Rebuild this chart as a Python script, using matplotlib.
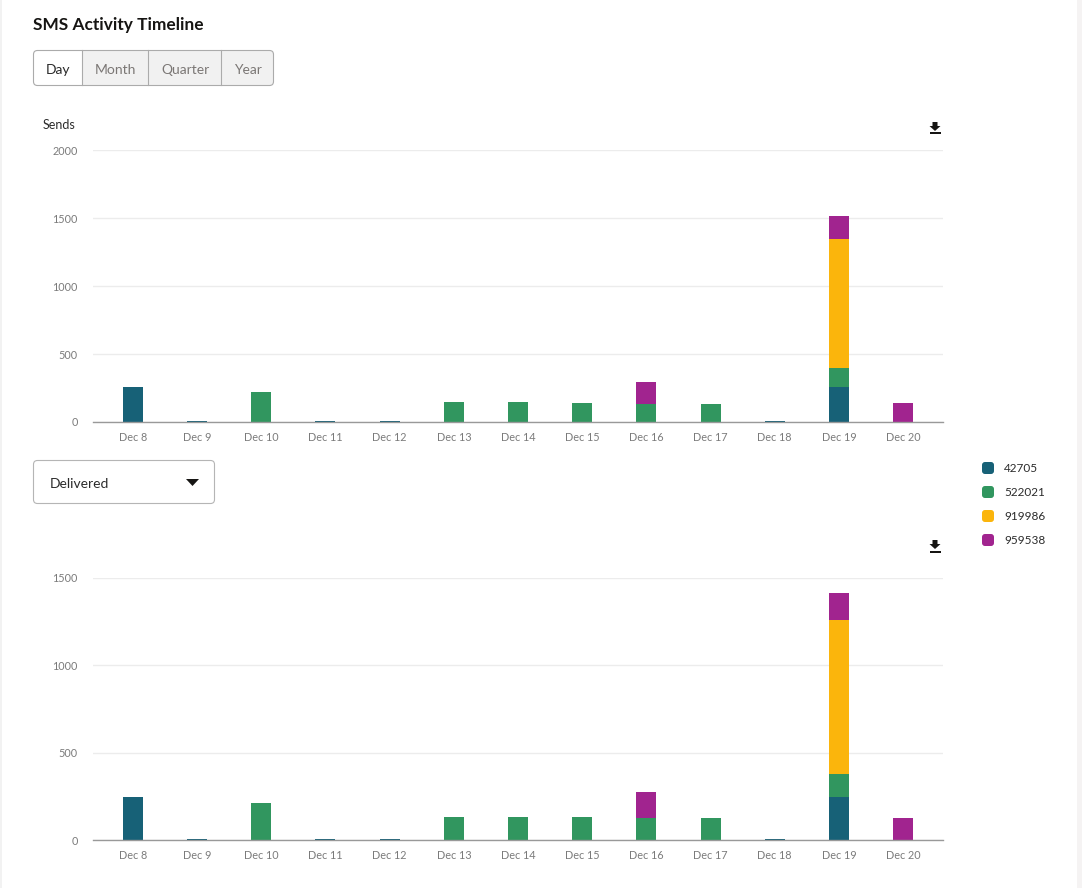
import matplotlib
matplotlib.use('Agg')
import matplotlib.pyplot as plt
import numpy as np
from matplotlib.patches import FancyBboxPatch, Rectangle, Polygon

plt.rcParams['font.family'] = ['Lato', 'DejaVu Sans']

W, H = 1082, 888

# Data
days = ['Dec 8', 'Dec 9', 'Dec 10', 'Dec 11', 'Dec 12', 'Dec 13', 'Dec 14',
        'Dec 15', 'Dec 16', 'Dec 17', 'Dec 18', 'Dec 19', 'Dec 20']
series_names = ['42705', '522021', '919986', '959538']
colors = ['#176177', '#31965f', '#fbb50c', '#a1248f']

sends_42705 = [257, 10, 0, 10, 10, 0, 0, 0, 0, 0, 10, 257, 0]
sends_522021 = [0, 0, 220, 0, 0, 147, 147, 140, 132, 132, 0, 140, 0]
sends_919986 = [0, 0, 0, 0, 0, 0, 0, 0, 0, 0, 0, 948, 0]
sends_959538 = [0, 0, 0, 0, 0, 0, 0, 0, 162, 0, 0, 170, 140]

deliv_42705 = [245, 8, 0, 8, 8, 0, 0, 0, 0, 0, 8, 245, 0]
deliv_522021 = [0, 0, 211, 0, 0, 131, 131, 131, 125, 125, 0, 131, 0]
deliv_919986 = [0, 0, 0, 0, 0, 0, 0, 0, 0, 0, 0, 884, 0]
deliv_959538 = [0, 0, 0, 0, 0, 0, 0, 0, 149, 0, 0, 149, 125]

sends_ticks = [0, 500, 1000, 1500, 2000]
deliv_ticks = [0, 500, 1000, 1500]

fig = plt.figure(figsize=(W / 100, H / 100), dpi=100, facecolor='white')

# full-figure layer in pixel coordinates for the page furniture
ui = fig.add_axes([0, 0, 1, 1])
ui.set_xlim(0, W)
ui.set_ylim(H, 0)
ui.axis('off')


def add_axes_px(left, top, right, bottom):
    return fig.add_axes([left / W, 1 - bottom / H, (right - left) / W, (bottom - top) / H])


def stacked(ax, stacks, ticks, ymax):
    x = np.arange(len(days))
    base = np.zeros(len(days))
    for vals, c in zip(stacks, colors):
        vals = np.array(vals, dtype=float)
        ax.bar(x, vals, width=0.312, bottom=base, color=c, linewidth=0, zorder=3)
        base += vals
    ax.set_xlim(-0.623, 12.623)
    ax.set_ylim(0, ymax)
    ax.set_xticks(x, days)
    ax.set_yticks(ticks, [str(t) for t in ticks])
    ax.tick_params(axis='both', length=0, labelsize=7.8, labelcolor='#7b7b7b')
    ax.tick_params(axis='x', pad=7)
    ax.tick_params(axis='y', pad=11)
    ax.grid(axis='y', color='#ececec', linewidth=1, zorder=0)
    ax.set_axisbelow(True)
    for s in ['top', 'left', 'right']:
        ax.spines[s].set_visible(False)
    ax.spines['bottom'].set_color('#999999')
    ax.spines['bottom'].set_linewidth(1)
    ax.spines['bottom'].set_zorder(4)
    ax.patch.set_alpha(0)


ax1 = add_axes_px(93, 150.5, 943, 422)
stacked(ax1, [sends_42705, sends_522021, sends_919986, sends_959538], sends_ticks, 2000)

ax2 = add_axes_px(93, 577.5, 943, 840)
stacked(ax2, [deliv_42705, deliv_522021, deliv_919986, deliv_959538], deliv_ticks, 1500)

# card edges
ui.add_patch(Rectangle((0, 0), 2, H, color='#f2f2f2', lw=0))
ui.add_patch(Rectangle((1077, 0), 5, H, color='#f5f3f3', lw=0))

ui.text(33, 25, 'SMS Activity Timeline', fontsize=12.4, fontweight='bold', color='#161513', va='center')
ui.text(43, 125, 'Sends', fontsize=9, color='#2b2b2b', va='center')

# Day / Month / Quarter / Year toggle
ui.add_patch(FancyBboxPatch((33.5, 50.5), 240, 35, boxstyle='round,pad=0,rounding_size=4',
                            fc='#f1f1f1', lw=0, zorder=1))
ui.add_patch(FancyBboxPatch((33.5, 50.5), 49, 35, boxstyle='round,pad=0,rounding_size=4',
                            fc='white', lw=0, zorder=2))
ui.add_patch(Rectangle((70, 50.5), 12, 35, fc='white', lw=0, zorder=2))
ui.add_patch(FancyBboxPatch((33.5, 50.5), 240, 35, boxstyle='round,pad=0,rounding_size=4',
                            fc='none', ec='#ababab', lw=0.8, zorder=3))
for sep in [82, 148, 221]:
    ui.plot([sep, sep], [50.5, 85.5], color='#ababab', lw=0.8, zorder=3)
for label, cx, col in [('Day', 58, '#2b2b2b'), ('Month', 115.5, '#7b7775'),
                       ('Quarter', 185.5, '#7b7775'), ('Year', 248, '#7b7775')]:
    ui.text(cx, 69.5, label, fontsize=10, color=col, ha='center', va='center', zorder=4)

# dropdown
ui.add_patch(FancyBboxPatch((33.5, 460.5), 181, 43, boxstyle='round,pad=0,rounding_size=4',
                            fc='white', ec='#b5b5b5', lw=0.8))
ui.text(50, 483.5, 'Delivered', fontsize=10, color='#2b2b2b', va='center')
ui.add_patch(Polygon([(186, 479), (199, 479), (192.5, 486)], fc='#161513', lw=0))


def download_icon(cx, top):
    ui.add_patch(Polygon([(cx - 2.5, top), (cx + 2.5, top), (cx + 2.5, top + 4), (cx + 5.5, top + 4),
                          (cx, top + 9), (cx - 5.5, top + 4), (cx - 2.5, top + 4)], fc='#161513', lw=0))
    ui.add_patch(Rectangle((cx - 5.5, top + 10.5), 11, 2, fc='#161513', lw=0))


download_icon(935, 122)
download_icon(935, 540)

# legend
for name, c, ly in zip(series_names, colors, [468, 492, 516, 540]):
    ui.add_patch(FancyBboxPatch((982, ly - 6), 12, 12, boxstyle='round,pad=0,rounding_size=3', fc=c, lw=0))
    ui.text(1004, ly + 0.5, name, fontsize=8.5, color='#2b2b2b', va='center')

fig.savefig('out.png', dpi=100)
